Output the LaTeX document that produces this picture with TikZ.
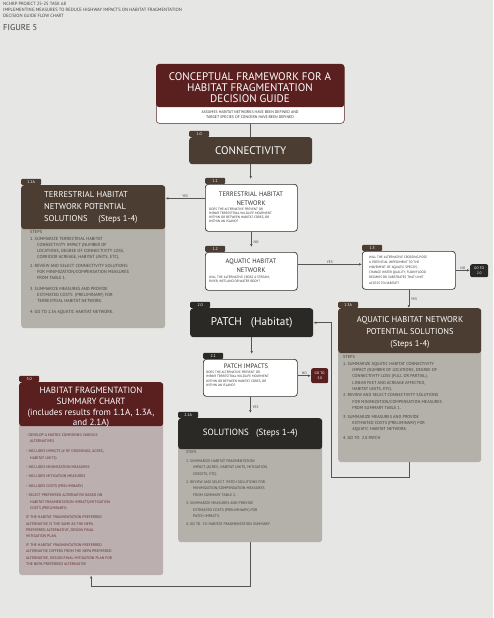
\documentclass[tikz,border=0pt]{standalone}
\usepackage{fontspec}
\setmainfont{PT Sans}
\usetikzlibrary{arrows.meta}

\definecolor{background}{HTML}{E6E6E5}
\definecolor{maroon}{HTML}{5A1F1F}
\definecolor{brown}{HTML}{4B3D31}
\definecolor{blackish}{HTML}{2A2926}
\definecolor{graybody}{HTML}{B4B1AB}
\definecolor{pinkbody}{HTML}{BCAFAF}
\definecolor{bodytext}{HTML}{43403A}
\definecolor{pinktext}{HTML}{632F2F}
\definecolor{linegray}{HTML}{555555}
\definecolor{edge}{HTML}{33312E}

\newcommand{\indentline}[1][7pt]{\hspace*{#1}}
\newcommand{\fsize}[2]{\fontsize{#1}{#2}\selectfont}

\tikzset{
  box/.style={anchor=north west, inner sep=0pt, rounded corners=3pt},
  question/.style={box, fill=white, draw=edge, line width=0.7pt},
  tab/.style={anchor=south west, inner sep=0pt, minimum width=20pt, minimum height=6pt,
    rounded corners=1pt, text=white, font=\fsize{4}{4}},
  gobox/.style={anchor=north west, inner sep=0pt, rounded corners=2pt, text=white,
    align=center, font=\fsize{3.6}{4.2}},
  link/.style={draw=linegray, line width=0.6pt},
  arrow/.style={link, -{Latex[length=3pt,width=2.6pt]}},
  down/.style={arrow, shorten >=5pt},
  tag/.style={font=\fsize{3.6}{4}, text=bodytext, inner sep=1pt},
  qtitle/.style={align=center, text=edge, font=\fsize{6.5}{9}, inner sep=0pt},
  qtext/.style={anchor=north west, align=left, text=edge, font=\fsize{3.3}{4.3}, inner sep=0pt},
  steps/.style={anchor=north west, align=left, text=bodytext, inner sep=0pt}
}

\begin{document}
\begin{tikzpicture}[x=1pt,y=-1pt]

\fill[background] (0,0) rectangle (493,618);

\node[anchor=north west, align=left, inner sep=0pt, text=bodytext, font=\fsize{4.6}{6}] (project) at (3,2.5)
  {NCHRP PROJECT 25-25 TASK 68\\IMPLEMENTING MEASURES TO REDUCE HIGHWAY IMPACTS ON HABITAT FRAGMENTATION\\DECISION GUIDE FLOW CHART};
\node[anchor=north west, inner sep=0pt, text=bodytext, font=\fsize{8.5}{9}] (figure) at (3,24.5) {FIGURE 5};

% conceptual framework
\node[box, fill=white, draw=maroon, line width=0.5pt, minimum width=188pt, minimum height=59pt] (frameNote) at (156,64) {};
\node[box, fill=maroon, minimum width=188pt, minimum height=43pt] (frame) at (156,64) {};
\node[align=center, text=white, font=\fsize{11}{11.2}, inner sep=0pt] (frameTitle) at (250,87.5)
  {CONCEPTUAL FRAMEWORK FOR A\\HABITAT FRAGMENTATION\\DECISION GUIDE};
\node[align=center, text=edge, font=\fsize{3.9}{5}, inner sep=0pt] (frameText) at (250,114.5)
  {ASSUMES HABITAT NETWORKS HAVE BEEN DEFINED AND\\TARGET SPECIES OF CONCERN HAVE BEEN DEFINED};

% 1.0
\node[box, fill=brown, minimum width=123pt, minimum height=27pt, text=white, font=\fsize{11}{11}] (connect) at (189,137) {CONNECTIVITY};
\node[tab, fill=brown] (tab10) at (connect.north west) {1.0};

% 1.1
\node[question, minimum width=92pt, minimum height=47pt] (q11) at (205,184) {};
\node[tab, fill=brown] (tab11) at (q11.north west) {1.1};
\node[qtitle] (q11Title) at (251,198.5) {TERRESTRIAL HABITAT\\NETWORK};
\node[qtext] (q11Text) at (209,207.5) {DOES THE ALTERNATIVE PREVENT OR\\IMPAIR TERRESTRIAL WILDLIFE MOVEMENT\\WITHIN OR BETWEEN HABITAT CORES, OR\\WITHIN AN ISLAND?};

% 1.2
\node[question, minimum width=92pt, minimum height=38pt] (q12) at (205,252) {};
\node[tab, fill=brown] (tab12) at (q12.north west) {1.2};
\node[qtitle] (q12Title) at (251,265.5) {AQUATIC HABITAT\\NETWORK};
\node[qtext] (q12Text) at (209,275.5) {WILL THE ALTERNATIVE CROSS A STREAM,\\RIVER, WETLAND OR WATER BODY?};

% 1.3
\node[question, minimum width=93pt, minimum height=38pt] (q13) at (362,251) {};
\node[tab, fill=brown] (tab13) at (q13.north west) {1.3};
\node[qtext, font=\fsize{3.3}{5.2}] (q13Text) at (369,255.5) {WILL THE ALTERNATIVE CROSSING POSE\\A POTENTIAL IMPEDIMENT TO THE\\MOVEMENT OF AQUATIC SPECIES,\\CHANGE WATER QUALITY, FLOW/FLOOD\\REGIMES OR SUBSTRATES THAT LIMIT\\ACCESS TO HABITAT?};
\node[gobox, fill=blackish, minimum width=18pt, minimum height=13pt] (goto20) at (470,264) {GO TO\\2.0};

% 1.1A
\node[box, fill=graybody, minimum width=144pt, minimum height=143pt] (sol11Body) at (21,185) {};
\node[box, fill=brown, minimum width=144pt, minimum height=44pt] (sol11) at (21,185) {};
\node[tab, fill=brown] (tab11A) at (sol11.north west) {1.1A};
\node[anchor=north west, align=left, text=white, font=\fsize{8.5}{11.7}, inner sep=0pt] (sol11Title) at (44,191.5)
  {TERRESTRIAL HABITAT\\NETWORK POTENTIAL\\SOLUTIONS\quad\ (Steps 1-4)};
\node[steps, font=\fsize{4.4}{6}] (sol11Text) at (30,230.5)
  {STEPS\\[0.5pt]
   1.~SUMMARIZE TERRESTRIAL HABITAT\\\indentline CONNECTIVITY IMPACT (NUMBER OF\\\indentline LOCATIONS, DEGREE OF CONNECTIVITY LOSS,\\\indentline CORRIDOR ACREAGE, HABITAT UNITS, ETC).\\[3pt]
   2.~REVIEW AND SELECT CONNECTIVITY SOLUTIONS\\\indentline FOR MINIMIZATION/COMPENSATION MEASURES\\\indentline FROM TABLE 1.\\[5.5pt]
   3.~SUMMARIZE MEASURES AND PROVIDE\\\indentline ESTIMATED COSTS\ \ (PRELIMINARY) FOR\\\indentline TERRESTRIAL HABITAT NETWORK.\\[4.5pt]
   4.~GO TO 1.3A AQUATIC HABITAT NETWORK.};

% 1.3A
\node[box, fill=graybody, minimum width=143pt, minimum height=154pt] (sol13Body) at (338,308) {};
\node[box, fill=brown, minimum width=143pt, minimum height=45pt] (sol13) at (338,308) {};
\node[tab, fill=brown] (tab13A) at (sol13.north west) {1.3A};
\node[align=center, text=white, font=\fsize{8.5}{11.8}, inner sep=0pt] (sol13Title) at (410,332.5)
  {AQUATIC HABITAT NETWORK\\POTENTIAL SOLUTIONS\\(Steps 1-4)};
\node[steps, font=\fsize{4.3}{6.2}] (sol13Text) at (343,355.5)
  {STEPS\\[0.5pt]
   1.~SUMMARIZE AQUATIC HABITAT CONNECTIVITY\\\indentline[8pt] IMPACT (NUMBER OF LOCATIONS, DEGREE OF\\\indentline[8pt] CONNECTIVITY LOSS (FULL OR PARTIAL),\\\indentline[8pt] LINEAR FEET AND ACREAGE AFFECTED,\\\indentline[8pt] HABITAT UNITS, ETC).\\[0.5pt]
   2.~REVIEW AND SELECT CONNECTIVITY SOLUTIONS\\\indentline[8pt] FOR MINIMIZATION/COMPENSATION MEASURES\\\indentline[8pt] FROM SUMMARY TABLE 1.\\[2.5pt]
   3.~SUMMARIZE MEASURES AND PROVIDE\\\indentline[8pt] ESTIMATED COSTS (PRELIMINARY) FOR\\\indentline[8pt] AQUATIC HABITAT NETWORK.\\[2.5pt]
   4.~GO TO\ \ 2.0 PATCH};

% 2.0
\node[box, fill=blackish, minimum width=123pt, minimum height=29pt, text=white, font=\fsize{11.2}{11.2}] (patch) at (190,308) {PATCH\ \ \ (Habitat)};
\node[tab, fill=blackish] (tab20) at (patch.north west) {2.0};

% 2.1
\node[question, minimum width=94pt, minimum height=37pt] (q21) at (203,359) {};
\node[tab, fill=blackish] (tab21) at (q21.north west) {2.1};
\node[qtitle] (q21Title) at (246,366.5) {PATCH IMPACTS};
\node[qtext] (q21Text) at (206,371) {DOES THE ALTERNATIVE PREVENT OR\\IMPAIR TERRESTRIAL WILDLIFE MOVEMENT\\WITHIN OR BETWEEN HABITAT CORES, OR\\WITHIN AN ISLAND?};
\node[gobox, fill=maroon, minimum width=17pt, minimum height=15pt] (goto30) at (311,368) {GO TO\\3.0};

% 2.1A
\node[box, fill=graybody, minimum width=144pt, minimum height=124pt] (sol21Body) at (178,418) {};
\node[box, fill=blackish, minimum width=144pt, minimum height=31pt, text=white, font=\fsize{9}{9}] (sol21) at (178,418) {SOLUTIONS\ \ \ (Steps 1-4)};
\node[tab, fill=blackish] (tab21A) at (sol21.north west) {2.1A};
\node[steps, font=\fsize{3.8}{6.6}] (sol21Text) at (186,451)
  {STEPS\\[1.5pt]
   1.~SUMMARIZE HABITAT FRAGMENTATION\\\indentline[6pt] IMPACT (ACRES, HABITAT UNITS, MITIGATION\\\indentline[6pt] CREDITS, ETC).\\[1.5pt]
   2.~REVIEW AND SELECT\ \ PATCH SOLUTIONS FOR\\\indentline[6pt] MINIMIZATION/COMPENSATION MEASURES\\\indentline[6pt] FROM SUMMARY TABLE 2.\\[1.5pt]
   3.~SUMMARIZE MEASURES AND PROVIDE\\\indentline[6pt] ESTIMATED COSTS (PRELIMINARY) FOR\\\indentline[6pt] PATCH IMPACTS.\\[1.5pt]
   4.~GO TO\ \ 3.0 HABITAT FRAGMENTATION SUMMARY};

% 3.0
\node[box, fill=pinkbody, minimum width=144pt, minimum height=193pt] (sumBody) at (19,382) {};
\node[box, fill=maroon, minimum width=144pt, minimum height=44pt] (summary) at (19,382) {};
\node[tab, fill=maroon] (tab30) at (summary.north west) {3.0};
\node[align=center, text=white, font=\fsize{9}{10.6}, inner sep=0pt] (sumTitle) at (91,407.5)
  {HABITAT FRAGMENTATION\\SUMMARY CHART\\(includes results from 1.1A, 1.3A,\\and 2.1A)};
\node[steps, text=pinktext, font=\fsize{3.8}{6.2}] (sumText) at (26,433.5)
  {- DEVELOP A MATRIX COMPARING VARIOUS\\\indentline[3pt] ALTERNATIVES\\[4pt]
   - INCLUDES IMPACTS (\# OF CROSSINGS, ACRES,\\\indentline[3pt] HABITAT UNITS)\\[3.5pt]
   - INCLUDES MINIMIZATION MEASURES\\[3pt]
   - INCLUDES MITIGATION MEASURES\\[3pt]
   - INCLUDES COSTS (PRELIMINARY)\\[3.5pt]
   - SELECT PREFERRED ALTERNATIVE BASED ON\\\indentline[3pt] HABITAT FRAGMENTATION IMPACTS/MITIGATION\\\indentline[3pt] COSTS (PRELIMINARY)\\[3.5pt]
   IF THE HABITAT FRAGMENTATION PREFERRED\\ALTERNATIVE IS THE SAME AS THE NEPA\\PREFERRED ALTERNATIVE, DESIGN FINAL\\MITIGATION PLAN.\\[3pt]
   IF THE HABITAT FRAGMENTATION PREFERRED\\ALTERNATIVE DIFFERS FROM THE NEPA PREFERRED\\ALTERNATIVE, DESIGN FINAL MITIGATION PLAN FOR\\THE NEPA PREFERRED ALTERNATIVE};

% connectors
\coordinate (yes1) at ([yshift=9.5pt]q11.west);
\coordinate (yes2) at ([yshift=7pt]q12.east);
\coordinate (turn1) at (331,477);

\draw[link] (frameNote.south) -- (frameNote.south |- connect.north);
\draw[down] (connect.south) -- (connect.south |- q11.north);
\draw[arrow] (yes1) -- (yes1 -| sol11.east) node[tag, midway, above] {YES};
\draw[down] (q11.south) -- node[tag, right=1pt] {NO} (q12.north);
\draw[arrow] (yes2) -- (yes2 -| q13.west) node[tag, midway, above] {YES};
\draw[arrow] (q13.east) -- (q13.east -| goto20.west) node[tag, midway, above] {NO};
\draw[arrow] (q13.south) -- node[tag, right=1pt] {YES} (q13.south |- sol13.north);
\draw[arrow] (sol13Body.south) |- (turn1) |- (patch.east);
\draw[down] (patch.south) -- (patch.south |- q21.north);
\draw[arrow] (goto30.west -| q21.east) -- (goto30.west) node[tag, midway, above] {NO};
\draw[down] (q21.south) -- node[tag, right=1pt] {YES} (q21.south |- sol21.north);
\draw[arrow] (sol21Body.south) -- ++(0,44) -| (sumBody.south);

\end{tikzpicture}
\end{document}
